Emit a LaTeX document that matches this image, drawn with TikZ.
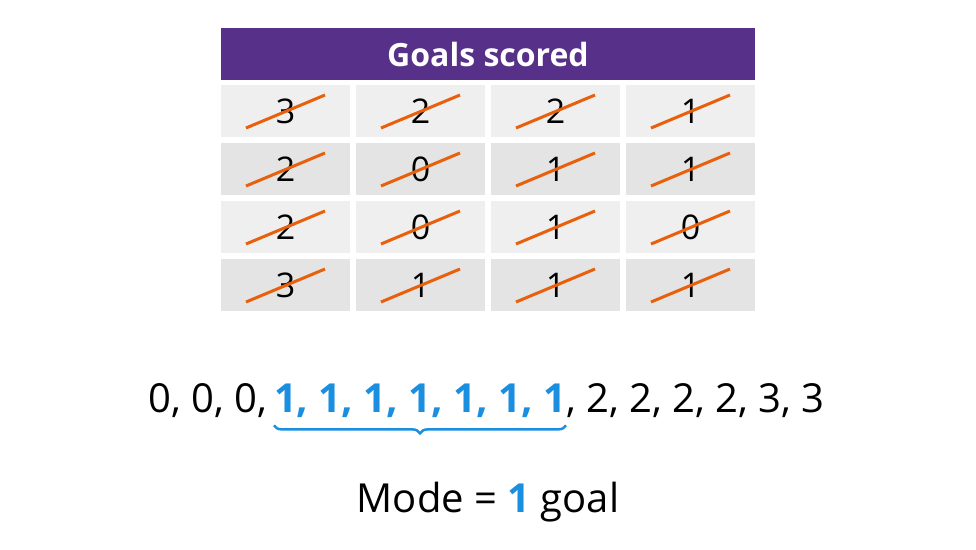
\documentclass[tikz,border=0pt]{standalone}
\usepackage{fontspec}
\setmainfont{Open Sans}
\usetikzlibrary{positioning,decorations.pathreplacing}
\definecolor{headpurple}{HTML}{563089}
\definecolor{strikeorange}{HTML}{E8600C}
\definecolor{cellone}{HTML}{EFEFEF}
\definecolor{celltwo}{HTML}{E4E4E4}
\definecolor{modeblue}{HTML}{1A8FE0}

\begin{document}
\begin{tikzpicture}[x=1pt,y=-1pt,
    cell/.style={minimum width=129pt,minimum height=52pt,inner sep=0pt,font=\fontsize{34}{34}\selectfont},
    strike/.style={draw=strikeorange,line width=3pt},
    seq/.style={inner sep=0pt,font=\fontsize{40}{40}\selectfont,anchor=base}
    ]
  \useasboundingbox (0,0) rectangle (976,549);

  \node[fill=headpurple,text=white,minimum width=534pt,minimum height=52pt,inner sep=0pt,
        font=\fontsize{32}{32}\selectfont\bfseries] (head) at (488,54) {Goals scored};

  % table of goals
  \foreach \row/\vals/\col in {0/{3,2,2,1}/cellone,1/{2,0,1,1}/celltwo,2/{2,0,1,0}/cellone,3/{3,1,1,1}/celltwo}{
    \foreach \v [count=\c from 0] in \vals {
      \node[cell,fill=\col] (c\row\c) at (285.5+135*\c,111+58*\row) {\v};
      \draw[strike] ([shift={(-39.5,17)}]c\row\c.center) -- ([shift={(39.5,-16)}]c\row\c.center);
    }
  }

  % ordered list
  \node[seq,text=modeblue,font=\fontsize{40}{40}\selectfont\bfseries] (ones) at (420,412) {1, 1, 1, 1, 1, 1, 1};
  \node[seq,anchor=base east] (zeros) at (ones.base west) {0, 0, 0,\,};
  \node[seq,anchor=base west] (rest) at (ones.base east) {, 2, 2, 2, 2, 3, 3};
  \draw[modeblue,line width=2.5pt,decorate,decoration={brace,mirror,amplitude=8pt}]
    ([yshift=-8pt]ones.south west) -- ([yshift=-8pt]ones.south east);

  \node[seq,font=\fontsize{40}{40}\selectfont] (mode) at (488,512) {Mode = {\bfseries\color{modeblue}1} goal};
\end{tikzpicture}
\end{document}
